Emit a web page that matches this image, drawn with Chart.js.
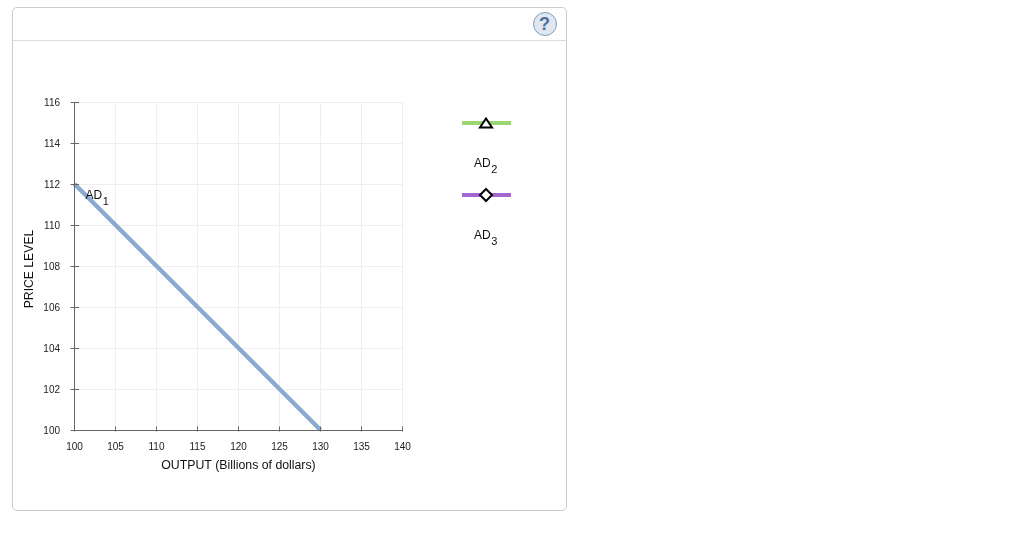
<!DOCTYPE html>
<html><head><meta charset="utf-8">
<script src="https://cdn.jsdelivr.net/npm/chart.js@4"></script>
<style>
html,body{margin:0;padding:0;background:#fff;width:1024px;height:541px;overflow:hidden;font-family:"Liberation Sans",Arial,sans-serif;color:#111}
#panel{position:absolute;left:12px;top:7px;width:553px;height:502px;border:1px solid #ccc;border-radius:5px}
#head{position:absolute;left:13px;top:40px;width:553px;height:1px;background:#ddd}
#help{position:absolute;left:532.5px;top:11.5px;width:22px;height:22px;border:1.5px solid #7d9dc4;border-radius:50%;background:#e1e7ef;color:#4a6f9f;font:bold 18px/22px "Liberation Sans",Arial,sans-serif;text-align:center}
canvas{position:absolute;left:0;top:0}
.lab{position:absolute;font-size:12px;line-height:14px;white-space:nowrap}
.lab sub{font-size:11px;line-height:0;vertical-align:baseline;position:relative;top:6px;left:.5px}
.sw{position:absolute;left:462px;width:49px;height:4px}
svg{position:absolute;left:474px;width:24px;height:24px;overflow:visible}
#ytitle{position:absolute;left:29px;top:268.5px;font-size:12.2px;line-height:14px;white-space:nowrap;transform:translate(-50%,-50%) rotate(-90deg)}
</style></head><body>
<div id="panel"></div><div id="head"></div><div id="help">?</div>
<canvas id="c" width="1024" height="541"></canvas>
<div id="ytitle">PRICE LEVEL</div>
<div class="lab" style="left:85.5px;top:188px">AD<sub>1</sub></div>
<div class="sw" style="top:121px;background:#9bd672"></div>
<svg style="top:111px" viewBox="0 0 24 24"><polygon points="12,7.5 18,16.5 6,16.5" fill="#fff" stroke="#000" stroke-width="2"/></svg>
<div class="lab" style="left:474px;top:156px">AD<sub>2</sub></div>
<div class="sw" style="top:193px;background:#a368cf"></div>
<svg style="top:182.5px" viewBox="0 0 24 24"><polygon points="12,6 18,12 12,18 6,12" fill="#fff" stroke="#000" stroke-width="2"/></svg>
<div class="lab" style="left:474px;top:228px">AD<sub>3</sub></div>
<script>
const outputValues=[100,130];
const priceValues=[112,100];
const xTicks=[100,105,110,115,120,125,130,135,140];
const yTicks=[100,102,104,106,108,110,112,114,116];
const xTitle="OUTPUT (Billions of dollars)";
const crossTicks={id:'crossTicks',
 beforeDraw(ch){
  const s=ch.scales.y;
  s.getLabelItems(ch.chartArea).forEach(it=>{if(!it._moved){it.options.translation[1]+=1;it.options.translation[0]-=.5;it._moved=true}});
 },
 afterDatasetsDraw(ch){
  const {ctx,scales:{x,y}}=ch;
  ctx.save();ctx.strokeStyle='#666';ctx.lineWidth=1;ctx.beginPath();
  const l=Math.floor(x.left)+.5,b=Math.round(y.bottom)+.5;
  xTicks.forEach(v=>{const p=Math.floor(x.getPixelForValue(v))+.5;ctx.moveTo(p,b-4);ctx.lineTo(p,b+1)});
  yTicks.forEach(v=>{const p=Math.floor(y.getPixelForValue(v))+.5;ctx.moveTo(l-4,p);ctx.lineTo(l+4.5,p)});
  ctx.moveTo(l,y.top);ctx.lineTo(l,b);ctx.moveTo(l,b);ctx.lineTo(x.right,b);
  ctx.stroke();ctx.restore();
}};
const tickFont={family:'"Liberation Sans",Arial,sans-serif',size:10};
const titleFont={family:'"Liberation Sans",Arial,sans-serif',size:12.3};
new Chart(document.getElementById('c'),{
  type:'scatter',
  data:{datasets:[{label:'AD1',data:outputValues.map((v,i)=>({x:v,y:priceValues[i]})),showLine:true,borderColor:'#8aa9d1',borderWidth:4.5,pointRadius:0,clip:false}]},
  options:{responsive:false,animation:false,devicePixelRatio:1,
    layout:{padding:{left:0,top:102,right:621.5,bottom:68}},
    plugins:{legend:{display:false},tooltip:{enabled:false}},
    scales:{
      x:{type:'linear',min:100,max:140,afterBuildTicks(s){s.ticks=xTicks.map(value=>({value}))},
        afterFit(s){s.height=43},
        grid:{color:'#eee',drawTicks:false,tickLength:0},border:{display:false},
        ticks:{font:tickFont,color:'#222',padding:11,maxRotation:0,autoSkip:false},
        title:{display:true,text:xTitle,font:titleFont,color:'#111',padding:{top:3,bottom:0}}},
      y:{type:'linear',min:100,max:116,afterBuildTicks(s){s.ticks=yTicks.map(value=>({value}))},
        afterFit(s){s.width=74.5},
        grid:{color:'#eee',drawTicks:false,tickLength:0},border:{display:false},
        ticks:{font:tickFont,color:'#222',padding:14,autoSkip:false}}
    }},
  plugins:[crossTicks]
});
</script>
</body></html>
